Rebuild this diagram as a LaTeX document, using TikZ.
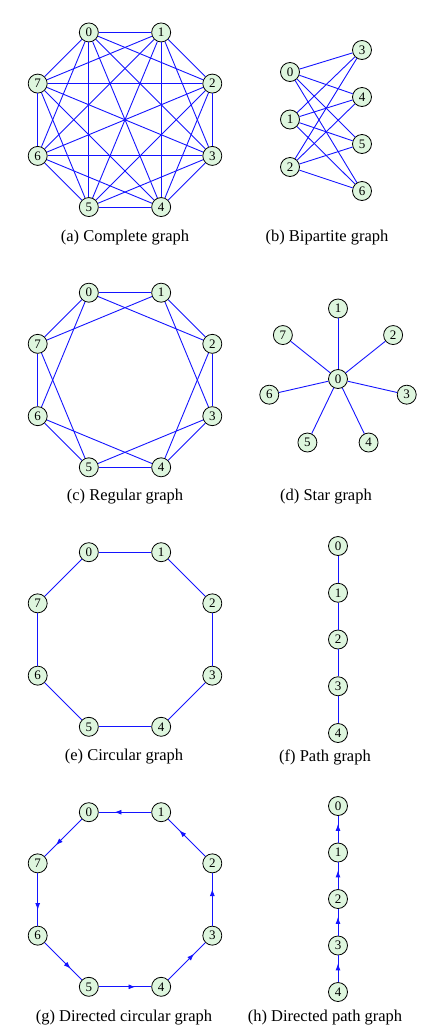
\documentclass[tikz,border=0pt]{standalone}
\usepackage{fontspec}
\setmainfont{Liberation Serif}
\usetikzlibrary{arrows.meta,decorations.markings}
\definecolor{nodefill}{RGB}{222,246,222}
\definecolor{edgeblue}{RGB}{20,20,255}
\begin{document}
\begin{tikzpicture}[x=1pt,y=-1pt,
  vtx/.style={circle,draw=black,line width=0.8pt,fill=nodefill,minimum size=19pt,inner sep=0pt,font=\fontsize{13}{13}\selectfont},
  edge/.style={draw=edgeblue,line width=0.9pt},
  dedge/.style={edge,postaction={decorate},decoration={markings,mark=at position 0.7 with {\arrow{Latex[length=7pt,width=5pt]}}}},
  captxt/.style={font=\fontsize{16.5}{18}\selectfont,inner sep=0pt}]
\useasboundingbox (0,0) rectangle (447,1034);
% ---------- octagon nodes ----------
\foreach \g/\cy in {a/119.75,c/380,e/639.5,g/899.5}{
  \foreach \i in {0,...,7}{
    \node[vtx] (\g\i) at ({125+94.5*cos(112.5-45*\i)},{\cy-94.5*sin(112.5-45*\i)}) {\i};
  }
}
% (a) complete graph
\foreach \i in {0,...,6}{
  \pgfmathtruncatemacro\js{\i+1}
  \foreach \j in {\js,...,7}{ \draw[edge] (a\i) -- (a\j); }
}
% (c) regular graph
\foreach \i in {0,...,7}{
  \pgfmathtruncatemacro\p{mod(\i+1,8)}
  \pgfmathtruncatemacro\q{mod(\i+2,8)}
  \draw[edge] (c\i) -- (c\p);
  \draw[edge] (c\i) -- (c\q);
}
% (e) circular graph
\foreach \i in {0,...,7}{
  \pgfmathtruncatemacro\p{mod(\i+1,8)}
  \draw[edge] (e\i) -- (e\p);
}
% (g) directed circular graph
\foreach \i in {0,...,7}{
  \pgfmathtruncatemacro\p{mod(\i+1,8)}
  \draw[dedge] (g\p) -- (g\i);
}
% (b) bipartite graph
\foreach \i in {0,1,2}{ \node[vtx] (b\i) at (290,{72+47.5*\i}) {\i}; }
\foreach \k in {3,...,6}{ \node[vtx] (b\k) at (362,{50+47*(\k-3)}) {\k}; }
\foreach \i in {0,1,2}{ \foreach \k in {3,...,6}{ \draw[edge] (b\i) -- (b\k); } }
% (d) star graph
\node[vtx] (d0) at (338,379) {0};
\foreach \k in {1,...,7}{
  \node[vtx] (d\k) at ({338+70.5*cos(90-51.4286*(\k-1))},{379-70.5*sin(90-51.4286*(\k-1))}) {\k};
  \draw[edge] (d0) -- (d\k);
}
% (f) path graph
\foreach \i in {0,...,4}{ \node[vtx] (f\i) at (338,{546+46.75*\i}) {\i}; }
\foreach \i in {0,...,3}{ \pgfmathtruncatemacro\p{\i+1} \draw[edge] (f\i) -- (f\p); }
% (h) directed path graph
\foreach \i in {0,...,4}{ \node[vtx] (h\i) at (338,{806+46.5*\i}) {\i}; }
\foreach \i in {0,...,3}{ \pgfmathtruncatemacro\p{\i+1} \draw[dedge] (h\p) -- (h\i); }
% captions
\node[captxt] (capa) at (125,238) {(a) Complete graph};
\node[captxt] (capb) at (327,238) {(b) Bipartite graph};
\node[captxt] (capc) at (125,497) {(c) Regular graph};
\node[captxt] (capd) at (326,497) {(d) Star graph};
\node[captxt] (cape) at (124,757) {(e) Circular graph};
\node[captxt] (capf) at (325,757) {(f) Path graph};
\node[captxt] (capg) at (124,1018) {(g) Directed circular graph};
\node[captxt] (caph) at (325,1018) {(h) Directed path graph};
\end{tikzpicture}
\end{document}
